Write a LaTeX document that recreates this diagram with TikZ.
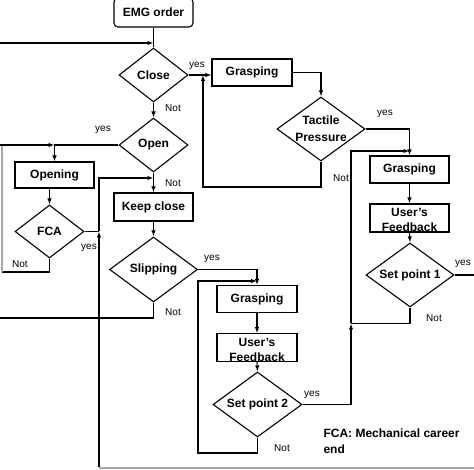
\documentclass[tikz,border=0pt]{standalone}
\usepackage{fontspec}
\setmainfont{Liberation Sans}
\usetikzlibrary{shapes.geometric,arrows.meta}
\begin{document}
\begin{tikzpicture}[x=1pt,y=-1pt,
  line width=1.1pt,
  box/.style={draw,rectangle,minimum width=80pt,minimum height=27pt,inner sep=0pt,align=center,font=\fontsize{12}{14}\selectfont\bfseries},
  dia/.style={draw,diamond,inner sep=-10pt,align=center,font=\fontsize{12}{17}\selectfont\bfseries},
  lbl/.style={font=\fontsize{10}{12}\selectfont,inner sep=0pt},
  arr/.style={-{Latex[length=6pt,width=4.5pt]}},
  edgeline/.style={draw=black!35,line width=2pt}
]
\useasboundingbox (0,0) rectangle (474,470);

% nodes
\node[box,rounded corners=4pt,minimum width=79pt,minimum height=29pt] (emg) at (153.5,12.5) {EMG order};
\node[dia,minimum width=69pt,minimum height=54pt] (close) at (153.5,75) {Close};
\node[box] (g1) at (252,72.5) {Grasping};
\node[dia,minimum width=88pt,minimum height=64pt] (tp) at (321,129) {Tactile\\Pressure};
\node[dia,minimum width=69pt,minimum height=54pt] (open) at (153.5,145) {Open};
\node[box,minimum width=79pt,minimum height=26pt] (opening) at (54.5,175) {Opening};
\node[dia,minimum width=69pt,minimum height=53pt] (fca) at (49.5,231.5) {FCA};
\node[box,minimum width=79pt,minimum height=28pt] (kc) at (153.5,207) {Keep close};
\node[dia,minimum width=88pt,minimum height=65pt] (slip) at (153.5,269.5) {Slipping};
\node[box,minimum width=79pt] (g2) at (409.5,169.5) {Grasping};
\node[box,minimum width=79pt,minimum height=28pt,font=\fontsize{12}{15}\selectfont\bfseries] (uf1) at (409.5,218) {\rule{0pt}{12.6pt}User's\\Feedback};
\node[dia,minimum width=88pt,minimum height=64pt] (sp1) at (410,275) {Set point 1};
\node[box] (g3) at (257,299) {Grasping};
\node[box,minimum height=27pt,font=\fontsize{12}{15}\selectfont\bfseries] (uf2) at (257,347.5) {\rule{0pt}{12.6pt}User's\\Feedback};
\node[dia,minimum width=89pt,minimum height=65pt] (sp2) at (257.5,404.5) {Set point 2};
\node[font=\fontsize{12}{16}\selectfont\bfseries,align=left,anchor=north west,inner sep=0pt] (note) at (323,428.5) {FCA: Mechanical career\\end};

% coordinates
\coordinate (lin) at (0,43);
\coordinate (jc) at (153.5,43);
\coordinate (lb) at (203,187);
\coordinate (fl) at (1.5,272);
\coordinate (fltop) at (1.5,145);
\coordinate (ftop) at (0,145);
\coordinate (fy) at (99,231.5);
\coordinate (vb) at (99,467);
\coordinate (vt) at (99,178);
\coordinate (sn) at (0,318);
\coordinate (s2l) at (198,453);
\coordinate (s2t) at (198,281);
\coordinate (m1) at (351,323.5);
\coordinate (m2) at (351,151);
\coordinate (s1r) at (474,275);
\coordinate (bl) at (99,468);
\coordinate (br) at (474,468);

% connectors
\draw (emg) -- (close.north);
\draw[arr] (lin) -- (jc);
\draw[arr] (close.east) -- (close.east -| g1.west);
\draw[arr] (g1.east) -- (g1.east -| tp.north) -- (tp.north);
\draw[arr] (tp.south) -- (tp.south |- lb) -- (lb) -- (lb |- close.east);
\draw[arr] (tp.east) -- (tp.east -| g2.north) -- (g2.north);
\draw[arr] (close.south) -- (open.north);
\draw[arr] (open.west) -- (open.west -| opening.north) -- (opening.north);
\draw[arr] (fca.north |- opening.south) -- (fca.north);
\draw (fca.south) -- (fca.south |- fl) -- (fl);
\draw[edgeline] (fl) -- (fltop);
\draw[arr] (ftop) -- (ftop -| opening.north);
\draw (fca.east) -- (fy);
\draw[arr] (vb) -- (fy);
\draw[arr] (fy) -- (vt) -- (vt -| kc.north);
\draw[arr] (open.south) -- (kc.north);
\draw[arr] (kc.south) -- (slip.north);
\draw (slip.south) -- (slip.south |- sn) -- (sn);
\draw[arr] (slip.east) -- (slip.east -| g3.north) -- (g3.north);
\draw[arr] (g3.south) -- (uf2.north);
\draw[arr] (uf2.south) -- (sp2.north);
\draw[arr] (sp2.south) -- (sp2.south |- s2l) -- (s2l) -- (s2t) -- (s2t -| g3.north);
\draw[arr] (sp2.east) -- (sp2.east -| m1) -- (m1);
\draw[arr] (m1) -- (m2) -- (m2 -| g2.north);
\draw (sp1.south) -- (sp1.south |- m1) -- (m1);
\draw (sp1.east) -- (s1r);
\draw[arr] (g2.south) -- (uf1.north);
\draw[arr] (uf1.south) -- (sp1.north);
\draw[edgeline,line width=2.5pt] (bl) -- (br);

% labels
\node[lbl] (l1) at (197,66) {yes};
\node[lbl] (l2) at (173,108) {Not};
\node[lbl] (l3) at (103,130) {yes};
\node[lbl] (l4) at (173,183) {Not};
\node[lbl] (l5) at (385,114) {yes};
\node[lbl] (l6) at (341,178) {Not};
\node[lbl] (l7) at (89,248) {yes};
\node[lbl] (l8) at (20,264) {Not};
\node[lbl] (l9) at (212,259) {yes};
\node[lbl] (l10) at (173,312) {Not};
\node[lbl] (l11) at (463,264) {yes};
\node[lbl] (l12) at (434,318) {Not};
\node[lbl] (l13) at (312,395) {yes};
\node[lbl] (l14) at (282,448) {Not};
\end{tikzpicture}
\end{document}
